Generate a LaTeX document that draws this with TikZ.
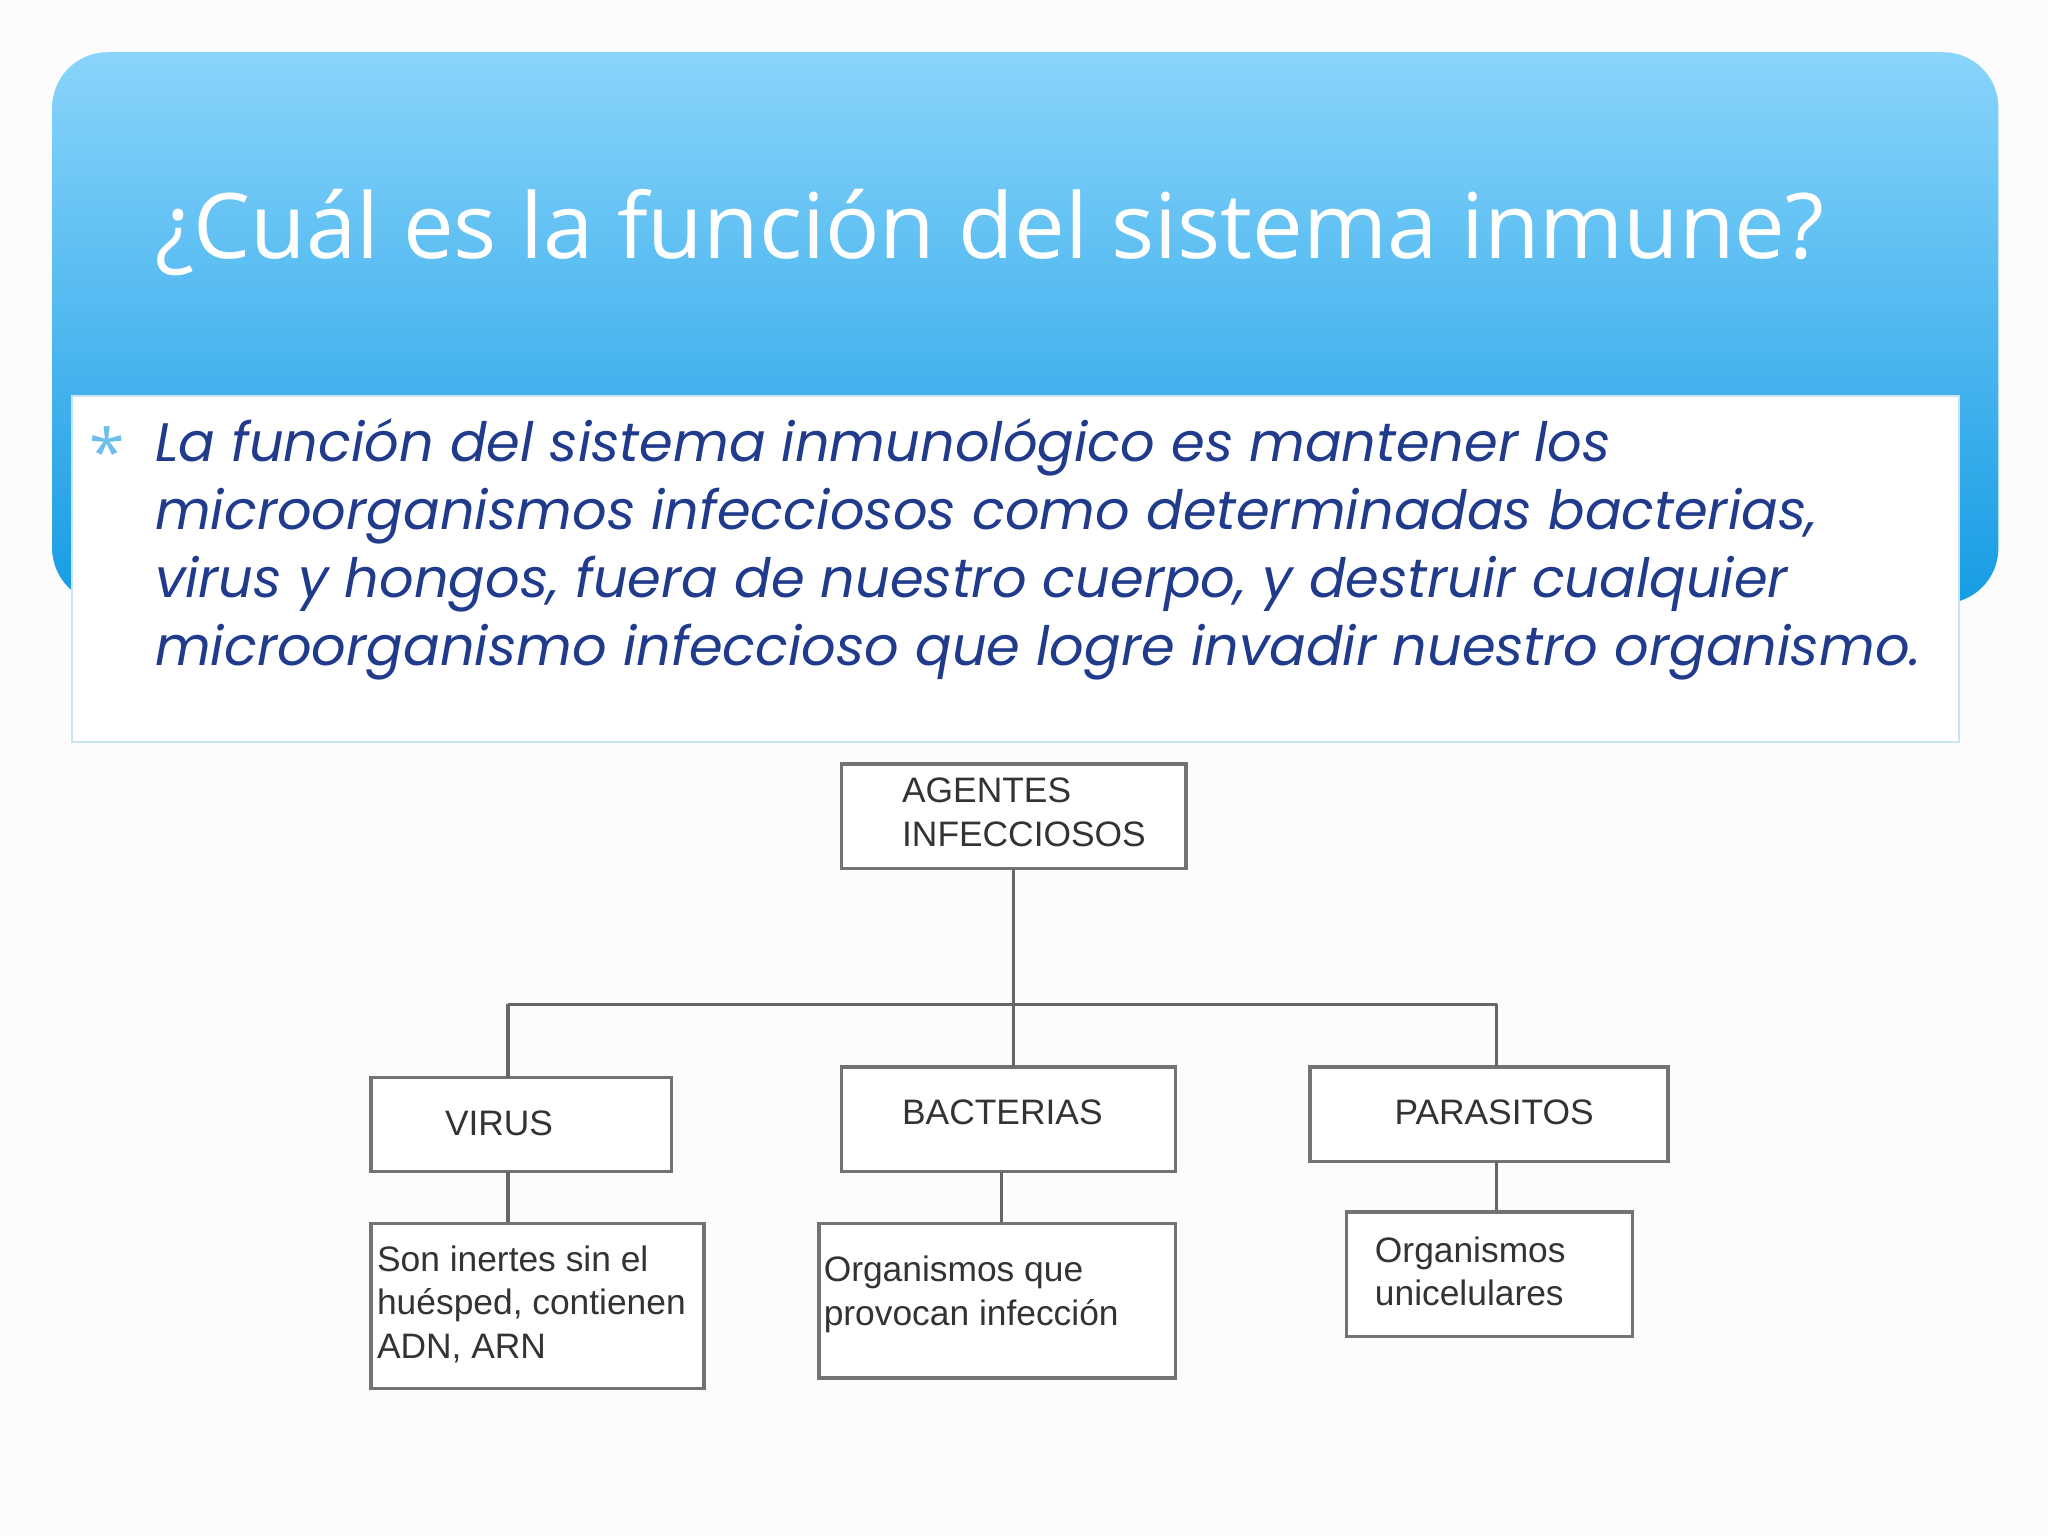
\documentclass[tikz,border=0pt]{standalone}
\usepackage{fontspec}
\setmainfont{Open Sans}
\newfontfamily\diag{Liberation Sans}
\newfontfamily\bodyf{Poppins}
\begin{document}
\begin{tikzpicture}[x=0.01cm,y=-0.01cm,
  dbox/.style={draw=gray!90!black,line width=0.7pt,fill=white},
  dtext/.style={font=\diag\fontsize{7.7}{9.5}\selectfont,text=black!80,anchor=west,align=left,inner sep=0pt},
  conn/.style={draw=gray!80!black,line width=0.7pt}]
\useasboundingbox (0,0) rectangle (1568,1176);
\fill[black!1] (0,0) rectangle (1568,1176);
\shade[top color={rgb,255:red,137;green,212;blue,251},bottom color={rgb,255:red,22;green,156;blue,228},rounded corners=12pt] (40,40) rectangle (1530,462);
\node[anchor=west,text=white,font=\fontsize{19.7}{24}\selectfont,inner sep=0pt] (title) at (118,178) {¿Cuál es la función del sistema inmune?};
\draw[draw={rgb,255:red,200;green,228;blue,245},fill=white] (55,303) rectangle (1500,568);
\node[text={rgb,255:red,110;green,190;blue,235},font=\fontsize{14}{14}\selectfont] (bul) at (82,345) {*};
\node[anchor=north west,inner sep=0pt,align=left,text={rgb,255:red,32;green,58;blue,140},font=\bodyf\itshape\fontsize{11.8}{14.8}\selectfont] (body) at (118,320)
{La función del sistema inmunológico es mantener los\\
microorganismos infecciosos como determinadas bacterias,\\
virus y hongos, fuera de nuestro cuerpo, y destruir cualquier\\
microorganismo infeccioso que logre invadir nuestro organismo.};
% diagram
\draw[dbox] (644,585) rectangle (908,665);
\node[dtext] (ag) at (690,622) {AGENTES\\INFECCIOSOS};
\coordinate (top) at (776,665);
\coordinate (j) at (776,769);
\coordinate (jl) at (389,769);
\coordinate (jr) at (1146,769);
\draw[conn] (top) -- (j) (jl) -- (jr);
\draw[dbox] (284,825) rectangle (514,897);
\node[dtext] (vir) at (340,860) {VIRUS};
\draw[dbox] (644,817) rectangle (900,897);
\node[dtext] (bac) at (690,852) {BACTERIAS};
\draw[dbox] (1003,817) rectangle (1277,889);
\node[dtext] (par) at (1067,852) {PARASITOS};
\draw[conn] (jl) -- (389,825) (j) -- (776,817) (jr) -- (1146,817);
\draw[conn] (389,897) -- (389,937) (767,897) -- (767,937) (1146,889) -- (1146,928);
\draw[dbox] (284,937) rectangle (539,1063);
\node[dtext,anchor=north west] (vt) at (288,953) {Son inertes sin el\\huésped, contienen\\ADN, ARN};
\draw[dbox] (627,937) rectangle (900,1055);
\node[dtext,anchor=north west] (bt) at (630,961) {Organismos que\\provocan infección};
\draw[dbox] (1031,928) rectangle (1250,1023);
\node[dtext,anchor=north west] (pt) at (1052,946) {Organismos\\unicelulares};
\end{tikzpicture}
\end{document}
